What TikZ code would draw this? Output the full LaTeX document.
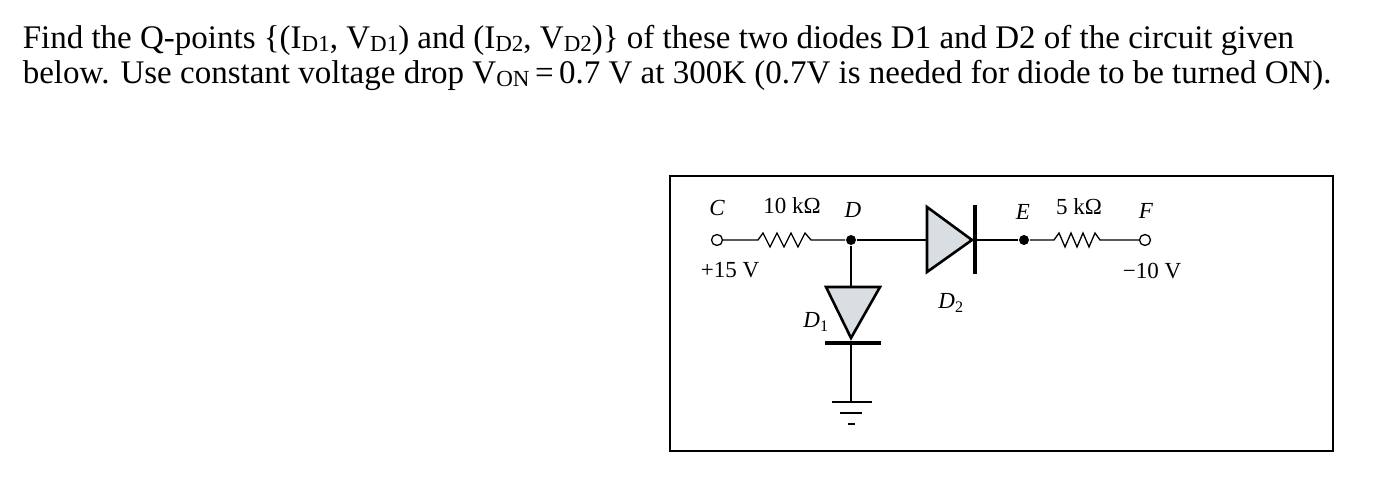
\documentclass[tikz,border=0pt]{standalone}
\usepackage{fontspec}
\setmainfont{Liberation Serif}
\newcommand{\sbs}[1]{\raisebox{-0.25ex}{\fontsize{23}{23}\selectfont #1}}
\begin{document}
\begin{tikzpicture}[x=1pt,y=-1pt,line width=1.6pt,
  lbl/.style={font=\fontsize{23}{25}\selectfont,inner sep=0pt},
  dot/.style={circle,fill=black,inner sep=0pt,minimum size=10pt},
  term/.style={circle,draw,fill=white,line width=1.3pt,inner sep=0pt,minimum size=11pt},
  dfill/.style={fill=gray!30!cyan!8!white!75!gray,draw=black,line width=2.6pt}]
\useasboundingbox (0,0) rectangle (1377,494);
\node[anchor=west,inner sep=0pt,font=\fontsize{33}{35}\selectfont] (t1) at (22,40) {Find the Q-points \{(I\sbs{D1}, V\sbs{D1}) and (I\sbs{D2}, V\sbs{D2})\} of these two diodes D1 and D2 of the circuit given};
\node[anchor=west,inner sep=0pt,font=\fontsize{33}{35}\selectfont] (t2) at (22,75) {below. Use constant voltage drop V\sbs{ON}\,=\,0.7 V at 300K (0.7V is needed for diode to be turned ON).};
\draw[line width=2.4pt] (670,176) rectangle (1333,451);
% nodes
\node[term] (C) at (717,240) {};
\node[dot] (D) at (851,240) {};
\node[dot] (E) at (1024,240) {};
\node[term] (F) at (1145,240) {};
\coordinate (r1a) at (758,240); \coordinate (r1b) at (811,240);
\coordinate (r2a) at (1054,240); \coordinate (r2b) at (1100,240);
\coordinate (g) at (851,402);
% wires
\draw[line width=1.3pt] (C) -- (r1a) -- ++(5,-7) -- ++(7,14) -- ++(7,-14) -- ++(7,14) -- ++(7,-14) -- ++(7,14) -- ++(7,-14) -- (r1b) -- (D);
\draw[line width=1.3pt] (E) -- (r2a) -- ++(5,-7) -- ++(6,14) -- ++(6,-14) -- ++(6,14) -- ++(6,-14) -- ++(6,14) -- ++(6,-14) -- (r2b) -- (F);
\draw[line width=1.3pt] (D) -- (927,240);
\draw[line width=1.3pt] (975,240) -- (E);
\draw[line width=1.3pt] (D) -- (851,287);
\draw[line width=1.3pt] (851,343) -- (g);
% D2
\draw[dfill] (927,207) -- (972,240) -- (927,272) -- cycle;
\draw[line width=3.2pt] (975,205) -- (975,274);
% D1
\draw[dfill] (826,287) -- (880,287) -- (851,338) -- cycle;
\draw[line width=3.2pt] (825,343) -- (881,343);
% ground
\draw[line width=2.8pt] (832,402) -- (872,402);
\draw[line width=2.8pt] (840,413) -- (862,413);
\draw[line width=2.8pt] (848,424) -- (855,424);
% labels
\node[lbl] at (717,208) {\itshape C};
\node[lbl] at (792,206) {10 kΩ};
\node[lbl] at (853,210) {\itshape D};
\node[lbl] at (1023,212) {\itshape E};
\node[lbl] at (1079,207) {5 kΩ};
\node[lbl] at (1146,211) {\itshape F};
\node[lbl] at (730,270) {+15 V};
\node[lbl] at (1152,271) {−10 V};
\node[lbl] at (816,322) {\itshape D\textsubscript{\upshape 1}};
\node[lbl] at (951,303) {\itshape D\textsubscript{\upshape 2}};
\end{tikzpicture}
\end{document}
